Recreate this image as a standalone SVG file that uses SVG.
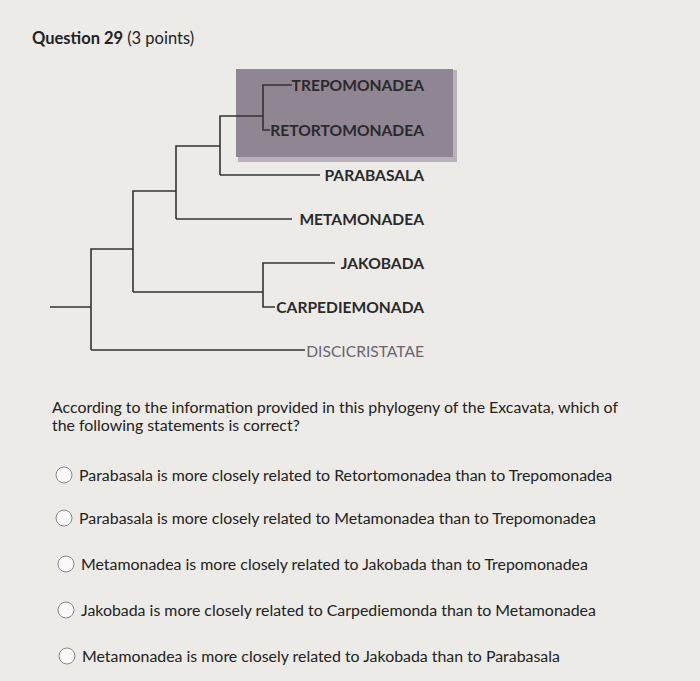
<svg xmlns="http://www.w3.org/2000/svg" width="700" height="681" viewBox="0 0 700 681">
<style>
.l{stroke:#333;stroke-width:1.6;fill:none}
.t{font-family:Lato,"Liberation Sans",sans-serif;font-weight:bold;font-size:15.6px;fill:#2a2a2a;text-anchor:end}
.q{font-family:Lato,"Liberation Sans",sans-serif;font-size:15.9px;fill:#222}
.o{fill:#fafafa;stroke:#888;stroke-width:1}
</style>
<rect width="700" height="681" fill="#ecebe8"/>
<text x="32" y="44" class="q" style="font-weight:bold;font-size:16.5px">Question 29 <tspan style="font-weight:normal">(3 points)</tspan></text>
<g id="box"><rect x="238" y="70" width="219" height="92" fill="#b9b2bd"/><rect x="236" y="69" width="217" height="88" fill="#8f8593"/></g>
<g id="connectors">
<path class="l" d="M292 85H263V130H270M220 175V116H263M320 175H220M176 219V146H220M292 219H176M133 292V191H176M335 263H263V307H275M133 292H263M91 350V249H133M50 307H91M305 350H91"/>
</g>
<g id="n1"><text x="424" y="91" class="t">TREPOMONADEA</text></g>
<g id="n2"><text x="424" y="136" class="t">RETORTOMONADEA</text></g>
<g id="n3"><text x="424" y="181" class="t">PARABASALA</text></g>
<g id="n4"><text x="424" y="225" class="t">METAMONADEA</text></g>
<g id="n5"><text x="424" y="269" class="t">JAKOBADA</text></g>
<g id="n6"><text x="424" y="313" class="t">CARPEDIEMONADA</text></g>
<g id="n7"><text x="424" y="357" class="t" style="font-weight:normal;fill:#6a6470">DISCICRISTATAE</text></g>
<text x="52" y="413" class="q">According to the information provided in this phylogeny of the Excavata, which of</text>
<text x="52" y="431" class="q">the following statements is correct?</text>
<circle cx="64" cy="475" r="8" class="o"/><text x="79" y="481" class="q">Parabasala is more closely related to Retortomonadea than to Trepomonadea</text>
<circle cx="64" cy="518" r="8" class="o"/><text x="79" y="524" class="q">Parabasala is more closely related to Metamonadea than to Trepomonadea</text>
<circle cx="66" cy="564" r="8" class="o"/><text x="81" y="570" class="q">Metamonadea is more closely related to Jakobada than to Trepomonadea</text>
<circle cx="66" cy="610" r="8" class="o"/><text x="81" y="616" class="q">Jakobada is more closely related to Carpediemonda than to Metamonadea</text>
<circle cx="67" cy="656" r="8" class="o"/><text x="82" y="662" class="q">Metamonadea is more closely related to Jakobada than to Parabasala</text>
</svg>
